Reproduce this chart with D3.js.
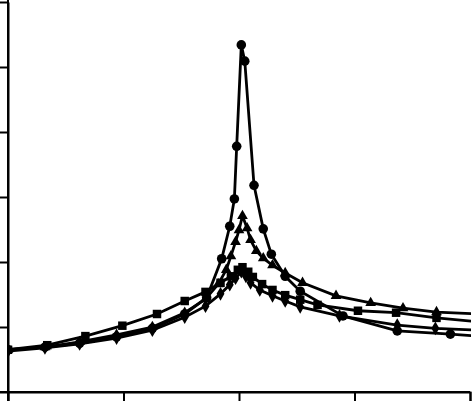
<!DOCTYPE html>
<html>
<head>
<meta charset="utf-8">
<script src="https://cdn.jsdelivr.net/npm/d3@7"></script>
<style>
  html, body { margin: 0; padding: 0; background: #fff; }
  svg { display: block; }
</style>
</head>
<body>
<div id="chart"></div>
<script>
// Set up the SVG and dimensions
const width = 474;
const height = 401;

// Axis ticks (no labels shown in the figure)
const xTicks = [0, 1, 2, 3, 4];
const yTicks = [0, 1, 2, 3, 4, 5, 6];

// Series (axis units)
const circleX = [0, 0.32, 0.62, 0.94, 1.25, 1.53, 1.72, 1.85, 1.92, 1.96, 1.98, 2.02, 2.05, 2.13, 2.21, 2.28, 2.40, 2.53, 2.90, 3.37, 3.83, 4.07];
const circleY = [0.65, 0.69, 0.75, 0.85, 0.98, 1.20, 1.45, 2.05, 2.55, 2.97, 3.78, 5.34, 5.09, 3.18, 2.51, 2.12, 1.78, 1.55, 1.17, 0.94, 0.89, 0.86];

const triangleX = [0, 0.32, 0.62, 0.94, 1.25, 1.53, 1.71, 1.82, 1.89, 1.93, 1.97, 2.00, 2.03, 2.07, 2.10, 2.15, 2.21, 2.29, 2.40, 2.55, 2.84, 3.14, 3.42, 3.71, 4.07];
const triangleY = [0.65, 0.69, 0.77, 0.88, 1.00, 1.22, 1.43, 1.66, 1.88, 2.09, 2.31, 2.49, 2.71, 2.52, 2.34, 2.17, 2.06, 1.95, 1.83, 1.68, 1.48, 1.37, 1.29, 1.23, 1.20];

const squareX = [0, 0.34, 0.67, 0.99, 1.29, 1.53, 1.71, 1.84, 1.93, 1.99, 2.03, 2.08, 2.12, 2.20, 2.29, 2.40, 2.53, 2.68, 3.03, 3.36, 3.71, 4.07];
const squareY = [0.65, 0.72, 0.86, 1.02, 1.20, 1.40, 1.54, 1.68, 1.78, 1.88, 1.92, 1.85, 1.77, 1.66, 1.57, 1.49, 1.42, 1.34, 1.25, 1.22, 1.14, 1.08];

const diamondX = [0, 0.32, 0.62, 0.94, 1.25, 1.53, 1.71, 1.84, 1.92, 1.97, 2.02, 2.06, 2.10, 2.18, 2.29, 2.40, 2.53, 2.87, 3.37, 3.70, 4.07];
const diamondY = [0.63, 0.68, 0.74, 0.83, 0.95, 1.15, 1.32, 1.51, 1.65, 1.75, 1.85, 1.78, 1.68, 1.57, 1.48, 1.40, 1.31, 1.17, 1.03, 0.98, 0.95];

const series = [
    { name: "circle", xs: circleX, ys: circleY, symbol: d3.symbolCircle, size: 72 },
    { name: "triangle", xs: triangleX, ys: triangleY, symbol: d3.symbolTriangle, size: 50 },
    { name: "square", xs: squareX, ys: squareY, symbol: d3.symbolSquare, size: 72 },
    { name: "diamond", xs: diamondX, ys: diamondY, symbol: d3.symbolDiamond, size: 54 }
];

const margin = { left: 8, right: 4, top: 2, bottom: 9 };

const x = d3.scaleLinear().domain([0, 4]).range([margin.left, width - margin.right]);
const y = d3.scaleLinear().domain([0, 6]).range([height - margin.bottom, margin.top]);

const svg = d3.select("#chart").append("svg")
    .attr("width", width)
    .attr("height", height);

svg.append("defs").append("clipPath")
    .attr("id", "plot")
    .append("rect")
    .attr("x", margin.left)
    .attr("y", 0)
    .attr("width", x(4) - margin.left + 1)
    .attr("height", y(0));

// Axes: ticks point outward, no labels
svg.append("g")
    .attr("transform", `translate(0,${y(0)})`)
    .call(d3.axisBottom(x).tickValues(xTicks).tickSize(9).tickFormat(""))
    .call(g => g.selectAll("path, line").attr("stroke", "#000").attr("stroke-width", 2));

svg.append("g")
    .attr("transform", `translate(${x(0)},0)`)
    .call(d3.axisLeft(y).tickValues(yTicks).tickSize(8).tickSizeOuter(0).tickFormat(""))
    .call(g => g.selectAll("path, line").attr("stroke", "#000").attr("stroke-width", 2));

// extend the axes past their crossing
svg.append("line")
    .attr("x1", x(0)).attr("x2", x(0))
    .attr("y1", 0).attr("y2", height)
    .attr("stroke", "#000").attr("stroke-width", 2);
svg.append("line")
    .attr("x1", 0).attr("x2", x(4))
    .attr("y1", y(0)).attr("y2", y(0))
    .attr("stroke", "#000").attr("stroke-width", 2);

const line = d3.line()
    .x(d => x(d[0]))
    .y(d => y(d[1]));

const plot = svg.append("g").attr("clip-path", "url(#plot)");

series.forEach(s => {
    const pts = s.xs.map((v, i) => [v, s.ys[i]]);
    plot.append("path")
        .datum(pts)
        .attr("fill", "none")
        .attr("stroke", "#000")
        .attr("stroke-width", 2.8)
        .attr("d", line);
    plot.selectAll(null)
        .data(pts)
        .enter()
        .append("path")
        .attr("transform", d => `translate(${x(d[0])},${y(d[1])})`)
        .attr("d", d3.symbol().type(s.symbol).size(s.size))
        .attr("fill", "#000");
});
</script>
</body>
</html>
